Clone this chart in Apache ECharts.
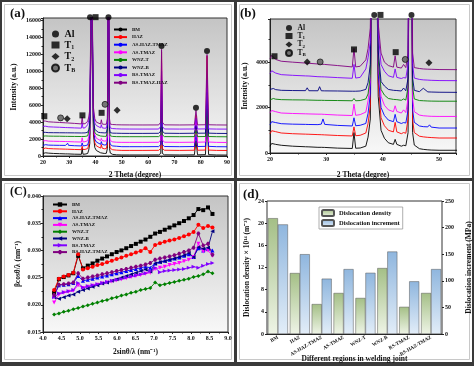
<!DOCTYPE html>
<html><head><meta charset="utf-8">
<script src="https://cdn.jsdelivr.net/npm/echarts@6/dist/echarts.min.js"></script>
<style>html,body{margin:0;padding:0;background:#fff}#c{width:474px;height:366px}</style>
</head><body><div id="c"></div>
<script>
// ---------- DATA ----------
const xrdNames = ['BM','HAZ','AS-HAZ-TMAZ','AS-TMAZ','WNZ-T','WNZ-B','RS-TMAZ','RS-TMAZ-HAZ'];
const whNames  = ['BM','HAZ','AS-HAZ-TMAZ','AS-TMAZ','WNZ-T','WNZ-B','RS-TMAZ','RS-HAZ-TMAZ'];
const seriesColors = ['#000000','#ff0000','#0000ff','#ff00ff','#008000','#000080','#8000ff','#800080'];

const twoTheta = [20.0,20.3,20.6,21.0,22.0,24.0,26.3,26.6,26.9,28.5,28.8,29.1,29.4,29.7,32.0,34.6,34.9,35.2,36.0,37.0,37.4,37.8,38.2,38.5,38.8,39.2,39.7,40.3,41.0,41.9,42.2,42.5,43.3,43.7,44.1,44.5,44.9,45.3,45.6,46.5,47.2,48.0,48.3,48.6,50.0,53.0,58.0,64.0,64.8,65.1,65.4,66.2,72.0,77.6,78.2,78.8,81.8,82.4,83.0,86.0,90.0];
const xrdBM = [300,420,480,380,340,300,275,290,270,250,255,250,248,245,215,200,900,210,220,300,700,1500,12000,40000,12000,2500,1000,650,450,380,600,380,300,340,320,900,25000,900,350,190,160,140,140,130,120,120,120,130,300,5500,300,140,120,140,1800,140,160,4500,160,120,110];
const xrdHAZ = [850,980,1050,940,880,850,830,840,825,810,808,805,800,798,770,750,1150,760,780,880,1300,2100,12500,40000,12500,3100,1550,1200,1000,930,1350,930,850,900,870,1500,22000,1450,900,740,710,690,700,680,660,660,660,670,900,12300,900,680,660,680,4800,680,700,11800,700,660,650];
const xrdASHAZTMAZ = [1250,1380,1450,1340,1290,1270,1260,1270,1255,1250,1255,1270,1500,1260,1215,1190,1550,1200,1220,1300,1750,2600,13000,40000,13000,3500,2000,1650,1450,1380,1700,1380,1300,1340,1320,1900,20000,1900,1350,1190,1160,1150,1240,1140,1100,1100,1100,1110,1350,7000,1350,1120,1100,1120,2500,1120,1140,6000,1140,1100,1090];
const xrdASTMAZ = [1770,1870,1930,1820,1760,1740,1725,1750,1720,1710,1712,1710,1705,1700,1670,1650,2150,1660,1690,1800,2300,3200,13500,40000,13500,4000,2500,2100,1900,1820,2080,1830,1760,1900,1780,2400,21000,2400,1820,1670,1640,1625,1620,1615,1610,1610,1610,1620,1900,11000,1900,1630,1610,1630,4200,1630,1650,8000,1650,1610,1600];
const xrdWNZT = [2340,2380,2400,2370,2350,2340,2335,2400,2330,2320,2322,2320,2318,2316,2310,2300,2400,2300,2310,2380,2600,3400,14000,40000,14000,4100,2800,2550,2400,2360,2420,2350,2320,2380,2330,2900,19000,2900,2380,2310,2300,2290,2290,2285,2280,2280,2280,2290,2500,6500,2500,2290,2280,2290,3000,2290,2300,5500,2300,2280,2270];
const xrdWNZB = [2800,2820,2840,2790,2760,2750,2745,2870,2742,2740,2920,2740,2738,2736,2730,2720,2760,2720,2730,2800,3100,3900,14500,40000,14500,4500,3150,2950,2800,2760,2800,2750,2730,2860,2740,3300,22000,3300,2760,2700,2850,2690,2760,2685,2675,2670,2670,2680,2950,9000,2950,2690,2670,2690,3600,2690,2700,7500,2700,2670,2660];
const xrdRSTMAZ = [3500,3620,3680,3520,3450,3420,3395,3480,3390,3360,3365,3355,3352,3350,3320,3290,3900,3300,3330,3700,4200,4900,15000,40000,15000,5300,3900,3600,3400,3330,3700,3330,3280,3320,3300,3900,23000,3900,3300,3240,3220,3210,3205,3200,3190,3185,3180,3185,3500,10000,3500,3190,3180,3190,4500,3190,3200,9000,3200,3180,3175];
const xrdRSTMAZHAZ = [4150,4300,4350,4120,4040,4000,3960,3980,3950,3920,3915,3910,3905,3900,3850,3790,4600,3790,3820,4100,4600,5500,16000,40000,16000,5700,4400,4000,3850,3780,4280,3780,3740,3900,3760,4400,26000,4400,3760,3720,3700,3690,3700,3685,3675,3670,3665,3670,4000,12600,4000,3680,3665,3680,5400,3680,3690,12000,3690,3670,3660];
const xrdSeries = [xrdBM,xrdHAZ,xrdASHAZTMAZ,xrdASTMAZ,xrdWNZT,xrdWNZB,xrdRSTMAZ,xrdRSTMAZHAZ];

// phase peak markers [2theta, intensity]
const phaseAlA = [[37.9,16400],[44.9,16400],[65.1,13000],[78.2,5700],[82.4,12400]];
const phaseT1A = [[20.5,4700],[35.0,4800],[40.0,16400],[42.3,5100]];
const phaseT2A = [[29.2,4400],[48.2,5400]];
const phaseTBA = [[26.7,4500],[43.6,6100]];
const phaseAlB = [[38.5,6080],[45.1,6080]];
const phaseT1B = [[39.6,6080],[20.8,4260],[34.9,4560],[42.3,4440]];
const phaseT2B = [[26.6,4010],[48.2,3970]];
const phaseTBB = [[28.9,4010],[44.0,4120]];

// Williamson-Hall
const whX = [4.30,4.43,4.56,4.69,4.82,4.95,5.08,5.21,5.34,5.47,5.60,5.73,5.86,5.99,6.12,6.25,6.38,6.51,6.64,6.77,6.90,7.03,7.16,7.29,7.42,7.55,7.68,7.81,7.94,8.07,8.20,8.33,8.46,8.58];
const whBM = [.0222,.0247,.0251,.0254,.0258,.0290,.0267,.0272,.0276,.0281,.0285,.0289,.0293,.0297,.0300,.0304,.0308,.0312,.0316,.0320,.0325,.0331,.0334,.0338,.0342,.0346,.0350,.0354,.0359,.0365,.0376,.0374,.0379,.0367];
const whHAZ = [.0227,.0248,.0252,.0255,.0259,.0293,.0265,.0267,.0270,.0273,.0275,.0278,.0281,.0284,.0287,.0290,.0293,.0296,.0299,.0304,.0297,.0310,.0313,.0316,.0318,.0320,.0323,.0326,.0329,.0334,.0347,.0341,.0345,.0342];
const whASHAZTMAZ = [.0216,.0236,.0237,.0238,.0240,.0253,.0244,.0246,.0248,.0250,.0252,.0254,.0256,.0258,.0260,.0262,.0264,.0266,.0268,.0270,.0268,.0276,.0279,.0281,.0283,.0285,.0287,.0290,.0293,.0288,.0304,.0300,.0303,.0300];
const whASTMAZ = [.0204,.0219,.0222,.0224,.0226,.0236,.0231,.0233,.0235,.0237,.0239,.0241,.0243,.0245,.0247,.0249,.0251,.0253,.0255,.0257,.0259,.0266,.0268,.0270,.0273,.0275,.0277,.0280,.0283,.0288,.0312,.0298,.0300,.0290];
const whWNZT = [.0182,.0184,.0187,.0189,.0192,.0194,.0197,.0199,.0202,.0204,.0207,.0209,.0212,.0214,.0217,.0219,.0222,.0224,.0227,.0229,.0231,.0241,.0236,.0238,.0240,.0242,.0244,.0246,.0248,.0251,.0253,.0256,.0261,.0258];
const whWNZB = [.0214,.0211,.0214,.0217,.0219,.0224,.0227,.0230,.0233,.0236,.0239,.0241,.0244,.0247,.0250,.0253,.0256,.0259,.0262,.0265,.0261,.0276,.0278,.0280,.0283,.0285,.0288,.0291,.0295,.0288,.0306,.0303,.0305,.0335];
const whRSTMAZ = [.0214,.0221,.0223,.0225,.0227,.0240,.0232,.0234,.0236,.0238,.0240,.0242,.0244,.0246,.0248,.0250,.0252,.0254,.0256,.0258,.0262,.0268,.0260,.0262,.0263,.0264,.0265,.0266,.0268,.0270,.0268,.0272,.0275,.0277];
const whRSHAZTMAZ = [.0218,.0237,.0238,.0239,.0241,.0258,.0248,.0250,.0252,.0254,.0256,.0258,.0260,.0262,.0264,.0266,.0268,.0270,.0272,.0274,.0277,.0283,.0285,.0287,.0289,.0291,.0294,.0297,.0300,.0305,.0331,.0309,.0312,.0292];
const whSeries = [whBM,whHAZ,whASHAZTMAZ,whASTMAZ,whWNZT,whWNZB,whRSTMAZ,whRSHAZTMAZ];

// Dislocation
const regions = ['BM','HAZ','AS-HAZ-TMAZ','AS-TMAZ','WNZ-T','WNZ-B','RS-TMAZ','RS-HAZ-TMAZ'];
const dislocationDensity = [20.9,11.0,5.4,7.4,6.5,11.9,4.9,7.4];
const dislocationIncrement = [206,150,104,122,115,155,99,122];

// ---------- STYLE ----------
const SERIF = 'Liberation Serif';
const tick = {fontFamily: SERIF, fontWeight: 'bold', fontSize: 6, color: '#111'};
const nameStyle = {fontFamily: SERIF, fontWeight: 'bold', fontSize: 7.5, color: '#111'};
const grayBg = () => new echarts.graphic.LinearGradient(0,0,0,1,[{offset:0,color:'#c4c4c4'},{offset:1,color:'#f8f8f8'}]);
const axLine = {lineStyle:{color:'#222', width:1}};
const plain = v => String(v);
const symbolsWH = ['rect','circle','triangle','path://M0,0 L10,0 L5,9 Z','diamond','path://M10,0 L10,10 L0,5 Z','path://M0,0 L10,5 L0,10 Z','path://M3,0 L7,0 L10,5 L7,10 L3,10 L0,5 Z'];
const sub = {s:{fontSize:6, fontFamily:SERIF, fontWeight:'bold', padding:[5,0,0,0]}};
const phaseFmt = n => {const k=n.split('|')[1]; return k==='Al'?'Al':('T{s|'+(k==='TB'?'B':k.slice(1))+'}');};

const series = [];
// (a) and (b)
[0,1].forEach(g => {
  xrdSeries.forEach((arr,i) => {
    series.push({type:'line', name:(g===0?'a|':'b|')+xrdNames[i], xAxisIndex:g, yAxisIndex:g,
      data: twoTheta.map((x,j)=>[x,arr[j]]), symbol:'none', clip:true,
      lineStyle:{width:0.9,color:seriesColors[i]}, itemStyle:{color:seriesColors[i]}, z:2});
  });
  const P = g===0 ? [phaseAlA,phaseT1A,phaseT2A,phaseTBA] : [phaseAlB,phaseT1B,phaseT2B,phaseTBB];
  [['Al','circle','#000'],['T1','rect','#000'],['T2','diamond','#000'],['TB','circle','#5a5a5a']].forEach((p,k)=>{
    series.push({type:'scatter', name:(g===0?'a|':'b|')+p[0], xAxisIndex:g, yAxisIndex:g, data:P[k], clip:false,
      symbol:p[1], symbolSize:k===2?7:6, itemStyle:{color:p[2], borderColor:'#000', borderWidth:k===3?0.8:0}, z:5});
  });
});
// (c)
whSeries.forEach((arr,i) => {
  series.push({type:'line', name:'c|'+whNames[i], xAxisIndex:2, yAxisIndex:2,
    data: whX.map((x,j)=>[x,arr[j]]), symbol:symbolsWH[i], symbolSize:4, showSymbol:true,
    lineStyle:{width:0.9,color:seriesColors[i]}, itemStyle:{color:seriesColors[i]}});
});
// (d)
const greenGrad = new echarts.graphic.LinearGradient(0,0,0,1,[{offset:0,color:'#a4bf86'},{offset:1,color:'#eef4e6'}]);
const blueGrad = new echarts.graphic.LinearGradient(0,0,0,1,[{offset:0,color:'#8fb6de'},{offset:1,color:'#e2edf8'}]);
series.push({type:'bar', name:'d|Dislocation density', xAxisIndex:3, yAxisIndex:3, data:dislocationDensity, barWidth:10, barGap:'0%',
  itemStyle:{color:greenGrad, borderColor:'#555', borderWidth:0.5}});
series.push({type:'bar', name:'d|Dislocation increment', xAxisIndex:3, yAxisIndex:4, data:dislocationIncrement, barWidth:10, barGap:'0%',
  itemStyle:{color:blueGrad, borderColor:'#555', borderWidth:0.5}});

const valX = (idx, min, max, interval, name, gap, fmt, showMax) => ({type:'value', gridIndex:idx, min, max, interval,
  name, nameLocation:'middle', nameGap:gap, nameMoveOverlap:false, nameTextStyle:nameStyle,
  axisLine:axLine, axisTick:{show:true,length:2,inside:false,lineStyle:{color:'#222'}},
  minorTick:{show:true,splitNumber:2,length:1.5,lineStyle:{color:'#222'}},
  axisLabel:Object.assign({margin:3, formatter:fmt||plain, showMaxLabel:showMax}, tick), splitLine:{show:false}});
const valY = (idx, min, max, interval, name, gap, fmt, extra) => Object.assign({type:'value', gridIndex:idx, min, max, interval,
  name, nameLocation:'middle', nameGap:gap, nameMoveOverlap:false, nameTextStyle:nameStyle,
  axisLine:axLine, axisTick:{show:true,length:2,lineStyle:{color:'#222'}},
  minorTick:{show:true,splitNumber:2,length:1.5,lineStyle:{color:'#222'}},
  axisLabel:Object.assign({margin:2, formatter:fmt||plain, showMaxLabel:false}, tick), splitLine:{show:false}}, extra||{});

const legText = (sz) => ({fontFamily:SERIF, fontWeight:'bold', fontSize:sz, color:'#111', rich:sub});

const option = {
  animation:false,
  backgroundColor:'transparent',
  grid:[
    {left:43, top:18, width:184, height:138, show:true, backgroundColor:grayBg(), borderColor:'#333', borderWidth:1},
    {left:270, top:19, width:186, height:134, show:true, backgroundColor:grayBg(), borderColor:'#333', borderWidth:1},
    {left:43, top:196, width:185, height:136, show:true, backgroundColor:grayBg(), borderColor:'#333', borderWidth:1},
    {left:267, top:201, width:177, height:133, show:true, backgroundColor:'#ffffff', borderColor:'#333', borderWidth:1}
  ],
  xAxis:[
    valX(0,20,90,10,'2 Theta (degree)',15,null,true),
    valX(1,20,53,10,'2 Theta (degree)',18,null,false),
    valX(2,4,9,0.5,'2sinθ/λ (nm\u207B\u00B9)',16,v=>v.toFixed(1),true),
    {type:'category', gridIndex:3, data:regions, name:'Different regions in welding joint', nameLocation:'middle', nameGap:21, nameMoveOverlap:false,
      nameTextStyle:nameStyle, axisLine:axLine, axisTick:{show:false},
      axisLabel:Object.assign({rotate:30, margin:3, interval:0}, tick, {fontSize:5})}
  ],
  yAxis:[
    valY(0,0,16300,2000,'Intensity (a.u.)',25),
    valY(1,0,5900,2000,'Intensity (a.u.)',21),
    valY(2,0.015,0.040,0.005,'βcosθ/λ (nm\u207B\u00B9)',21,v=>v.toFixed(3),{axisLabel:Object.assign({margin:2,formatter:v=>v.toFixed(3)},tick)}),
    valY(3,0,24,4,'Dislocation density × 10\u00B9\u2074 (m\u207B\u00B2)',16,null,{axisLabel:Object.assign({margin:3},tick), minorTick:{show:false}}),
    valY(3,0,250,50,'Dislocation increment (MPa)',23,null,{position:'right', axisLabel:Object.assign({margin:3},tick), minorTick:{show:false}})
  ],
  legend:[
    {left:46, top:24, orient:'vertical', itemGap:1, itemWidth:8, itemHeight:7, data:['a|Al','a|T1','a|T2','a|TB'], formatter:phaseFmt, textStyle:legText(10)},
    {left:108, top:22, orient:'vertical', itemGap:2.6, itemWidth:13, itemHeight:5, data:xrdNames.map(n=>'a|'+n), formatter:n=>n.split('|')[1], textStyle:legText(5)},
    {left:280, top:19, orient:'vertical', itemGap:0, itemWidth:7, itemHeight:6, data:['b|Al','b|T1','b|T2','b|TB'], formatter:phaseFmt, textStyle:Object.assign(legText(7.5),{rich:{s:{fontSize:5,fontFamily:SERIF,fontWeight:'bold',padding:[4,0,0,0]}}})},
    {left:47, top:197, orient:'vertical', itemGap:1.8, itemWidth:14, itemHeight:5.5, data:whNames.map(n=>'c|'+n), formatter:n=>n.split('|')[1], textStyle:legText(5)},
    {left:319, top:207, orient:'vertical', itemGap:2, itemWidth:12, itemHeight:6, padding:[2,3,2,2], borderColor:'#999', borderWidth:0.8,
      data:['d|Dislocation density','d|Dislocation increment'], formatter:n=>n.split('|')[1], textStyle:legText(6.5)}
  ],
  graphic:[
    {type:'rect', z:-100, shape:{x:0,y:0,width:474,height:366}, style:{fill:'#3a3a3a'}},
    {type:'rect', z:-99, shape:{x:2,y:2,width:232,height:176}, style:{fill:'#fff'}},
    {type:'rect', z:-99, shape:{x:237,y:2,width:235,height:176}, style:{fill:'#fff'}},
    {type:'rect', z:-99, shape:{x:2,y:181,width:232,height:181}, style:{fill:'#fff'}},
    {type:'rect', z:-99, shape:{x:237,y:181,width:235,height:181}, style:{fill:'#fff'}},
    {type:'rect', z:-98, shape:{x:4.5,y:4.5,width:227,height:171}, style:{fill:null, stroke:'#c8c8c8', lineWidth:1}},
    {type:'rect', z:-98, shape:{x:239.5,y:4.5,width:230,height:171}, style:{fill:null, stroke:'#c8c8c8', lineWidth:1}},
    {type:'rect', z:-98, shape:{x:4.5,y:183.5,width:227,height:176}, style:{fill:null, stroke:'#c8c8c8', lineWidth:1}},
    {type:'rect', z:-98, shape:{x:239.5,y:183.5,width:230,height:176}, style:{fill:null, stroke:'#c8c8c8', lineWidth:1}},
    {type:'text', z:50, left:10, top:7, style:{text:'(a)', font:'bold 13px "Liberation Serif"', fill:'#111'}},
    {type:'text', z:50, left:240, top:7, style:{text:'(b)', font:'bold 13px "Liberation Serif"', fill:'#111'}},
    {type:'text', z:50, left:10, top:186, style:{text:'(C)', font:'bold 12px "Liberation Serif"', fill:'#111'}},
    {type:'text', z:50, left:243, top:188, style:{text:'(d)', font:'bold 13px "Liberation Serif"', fill:'#111'}}
  ],
  series
};
const chart = echarts.init(document.getElementById('c'), null, {renderer:'canvas'});
chart.setOption(option);
</script></body></html>
